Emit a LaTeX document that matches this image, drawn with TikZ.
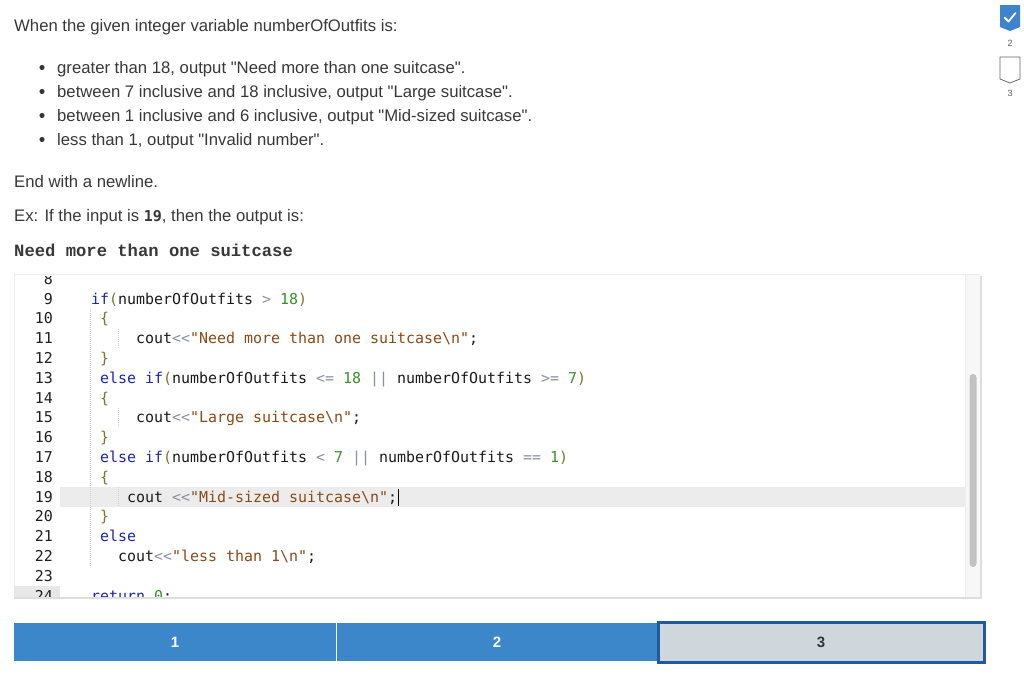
\documentclass[tikz,border=0pt]{standalone}
\usepackage{fontspec}
\setmainfont{Liberation Sans}[Ligatures=TeXOff]
\setmonofont{DejaVu Sans Mono}
\newfontfamily\outfont{Liberation Mono}
\definecolor{prosec}{HTML}{383838}
\definecolor{kwc}{HTML}{1D26AE}
\definecolor{nmc}{HTML}{3A8F29}
\definecolor{stc}{HTML}{8A4A16}
\definecolor{opc}{HTML}{8790A3}
\definecolor{pac}{HTML}{7A7530}
\definecolor{idc}{HTML}{1A1A1A}
\definecolor{btnblue}{HTML}{3C87CA}
\definecolor{btnedge}{HTML}{1F5A9E}
\definecolor{btngray}{HTML}{D0D7DC}
\definecolor{tagblue}{HTML}{3D84CC}
\newcommand{\ckw}[1]{\textcolor{kwc}{#1}}
\newcommand{\cnm}[1]{\textcolor{nmc}{#1}}
\newcommand{\cst}[1]{\textcolor{stc}{#1}}
\newcommand{\cop}[1]{\textcolor{opc}{#1}}
\newcommand{\cpa}[1]{\textcolor{pac}{#1}}
\tikzset{
  prose/.style={anchor=base west, inner sep=0pt, font=\fontsize{16.7}{20}\selectfont, text=prosec},
  codeln/.style={anchor=base west, inner sep=0pt, font=\ttfamily\fontsize{14.95}{18}\selectfont, text=idc},
  lnum/.style={anchor=base east, inner sep=0pt, font=\ttfamily\fontsize{14.95}{18}\selectfont, text=black!88},
  guide/.style={draw=black!18, line width=0.8pt, dash pattern=on 1pt off 1pt},
  btnlabel/.style={inner sep=0pt, font=\bfseries\fontsize{15}{18}\selectfont},
  taglabel/.style={inner sep=0pt, font=\fontsize{9}{11}\selectfont, text=black!65},
}
\begin{document}
\begin{tikzpicture}[x=1pt,y=-1pt]
\useasboundingbox (0,0) rectangle (1024,681);
\fill[white] (0,0) rectangle (1024,681);

% ---- prose ----
\node[prose] (intro) at (14,31) {When the given integer variable numberOfOutfits is:};
\foreach \i/\t in {0/{greater than 18, output "Need more than one suitcase".},
                   1/{between 7 inclusive and 18 inclusive, output "Large suitcase".},
                   2/{between 1 inclusive and 6 inclusive, output "Mid-sized suitcase".},
                   3/{less than 1, output "Invalid number".}}{
  \fill[prosec] (42,{73+24*\i-5.5}) circle (2.6);
  \node[prose] (bullet\i) at (57,{73+24*\i}) {\t};
}
\node[prose] (endnl) at (14,187) {End with a newline.};
\node[prose] (exline) at (14,221) {Ex: If the input is {\ttfamily\bfseries\fontsize{15}{18}\selectfont 19}, then the output is:};
\node[anchor=base west, inner sep=0pt, font=\outfont\bfseries\fontsize{17.2}{20}\selectfont, text=prosec] (outex) at (14,256) {Need more than one suitcase};

% ---- code box ----
\fill[black!13] (14,275.5) rectangle (981.5,598.5);
\fill[white] (14,274.5) rectangle (980,596.5);
\draw[black!7, line width=0.6pt] (14,596.5) -- (14,274.5) -- (980,274.5);
\fill[black!3] (965,274.5) rectangle (980,596.5);
\draw[black!7, line width=0.6pt] (965,274.5) -- (965,596.5);
\fill[black!24, rounded corners=3.5pt] (969.5,374) rectangle (976.5,567);
\fill[black!7.5] (60,487) rectangle (965,506.8);
\fill[black!9] (14,586) rectangle (60,596.5);

\begin{scope}
\clip (14,276.5) rectangle (965,596.5);
\foreach \n in {8,...,24}{
  \node[lnum] (ln\n) at (53,{304+(\n-9)*19.8}) {\n};
}
\node[codeln] (c9)  at (91,304)   {\ckw{if}\cpa{(}numberOfOutfits \cop{>} \cnm{18}\cpa{)}};
\node[codeln] (c10) at (100,323.8) {\cpa{\{}};
\node[codeln] (c11) at (136,343.6) {cout\cop{<<}\cst{"Need more than one suitcase\textbackslash n"};};
\node[codeln] (c12) at (100,363.4) {\cpa{\}}};
\node[codeln] (c13) at (100,383.2) {\ckw{else} \ckw{if}\cpa{(}numberOfOutfits \cop{<=} \cnm{18} \cop{||} numberOfOutfits \cop{>=} \cnm{7}\cpa{)}};
\node[codeln] (c14) at (100,403)   {\cpa{\{}};
\node[codeln] (c15) at (136,422.8) {cout\cop{<<}\cst{"Large suitcase\textbackslash n"};};
\node[codeln] (c16) at (100,442.6) {\cpa{\}}};
\node[codeln] (c17) at (100,462.4) {\ckw{else} \ckw{if}\cpa{(}numberOfOutfits \cop{<} \cnm{7} \cop{||} numberOfOutfits \cop{==} \cnm{1}\cpa{)}};
\node[codeln] (c18) at (100,482.2) {\cpa{\{}};
\node[codeln] (c19) at (127,502)   {cout \cop{<<}\cst{"Mid-sized suitcase\textbackslash n"};};
\node[codeln] (c20) at (100,521.8) {\cpa{\}}};
\node[codeln] (c21) at (100,541.6) {\ckw{else}};
\node[codeln] (c22) at (118,561.4) {cout\cop{<<}\cst{"less than 1\textbackslash n"};};
\node[codeln] (c24) at (91,601)    {\ckw{return} \cnm{0};};
\draw[guide] (90.5,309) -- (90.5,566.5);
\draw[guide] (118.5,328.6) -- (118.5,348.4);
\draw[guide] (118.5,407.8) -- (118.5,427.6);
\draw[guide] (118.5,487) -- (118.5,506.8);
\draw[black, line width=1.5pt] (398.5,488.5) -- (398.5,506);
\end{scope}

% ---- buttons ----
\fill[btnblue] (14,623) rectangle (336,661);
\fill[btnblue] (337,623) rectangle (657,661);
\filldraw[fill=btngray, draw=btnedge, line width=3pt] (658.5,622.5) rectangle (984.5,662.5);
\node[btnlabel, text=white] (b1) at (175,642) {1};
\node[btnlabel, text=white] (b2) at (497,642) {2};
\node[btnlabel, text=black!80] (b3) at (821,642) {3};

% ---- top-right tags ----
\fill[tagblue] (1000,5) -- (1020,5) -- (1020,27) -- (1010,31) -- (1000,27) -- cycle;
\draw[white, line width=1.8pt, line cap=round, line join=round] (1004.5,17.5) -- (1008.5,21.5) -- (1015.5,13);
\node[taglabel] (t2) at (1010,43) {2};
\draw[black!60, line width=0.8pt, line join=round] (1000,57) -- (1020,57) -- (1020,79) -- (1010,83) -- (1000,79) -- cycle;
\node[taglabel] (t3) at (1010,93) {3};
\end{tikzpicture}
\end{document}
